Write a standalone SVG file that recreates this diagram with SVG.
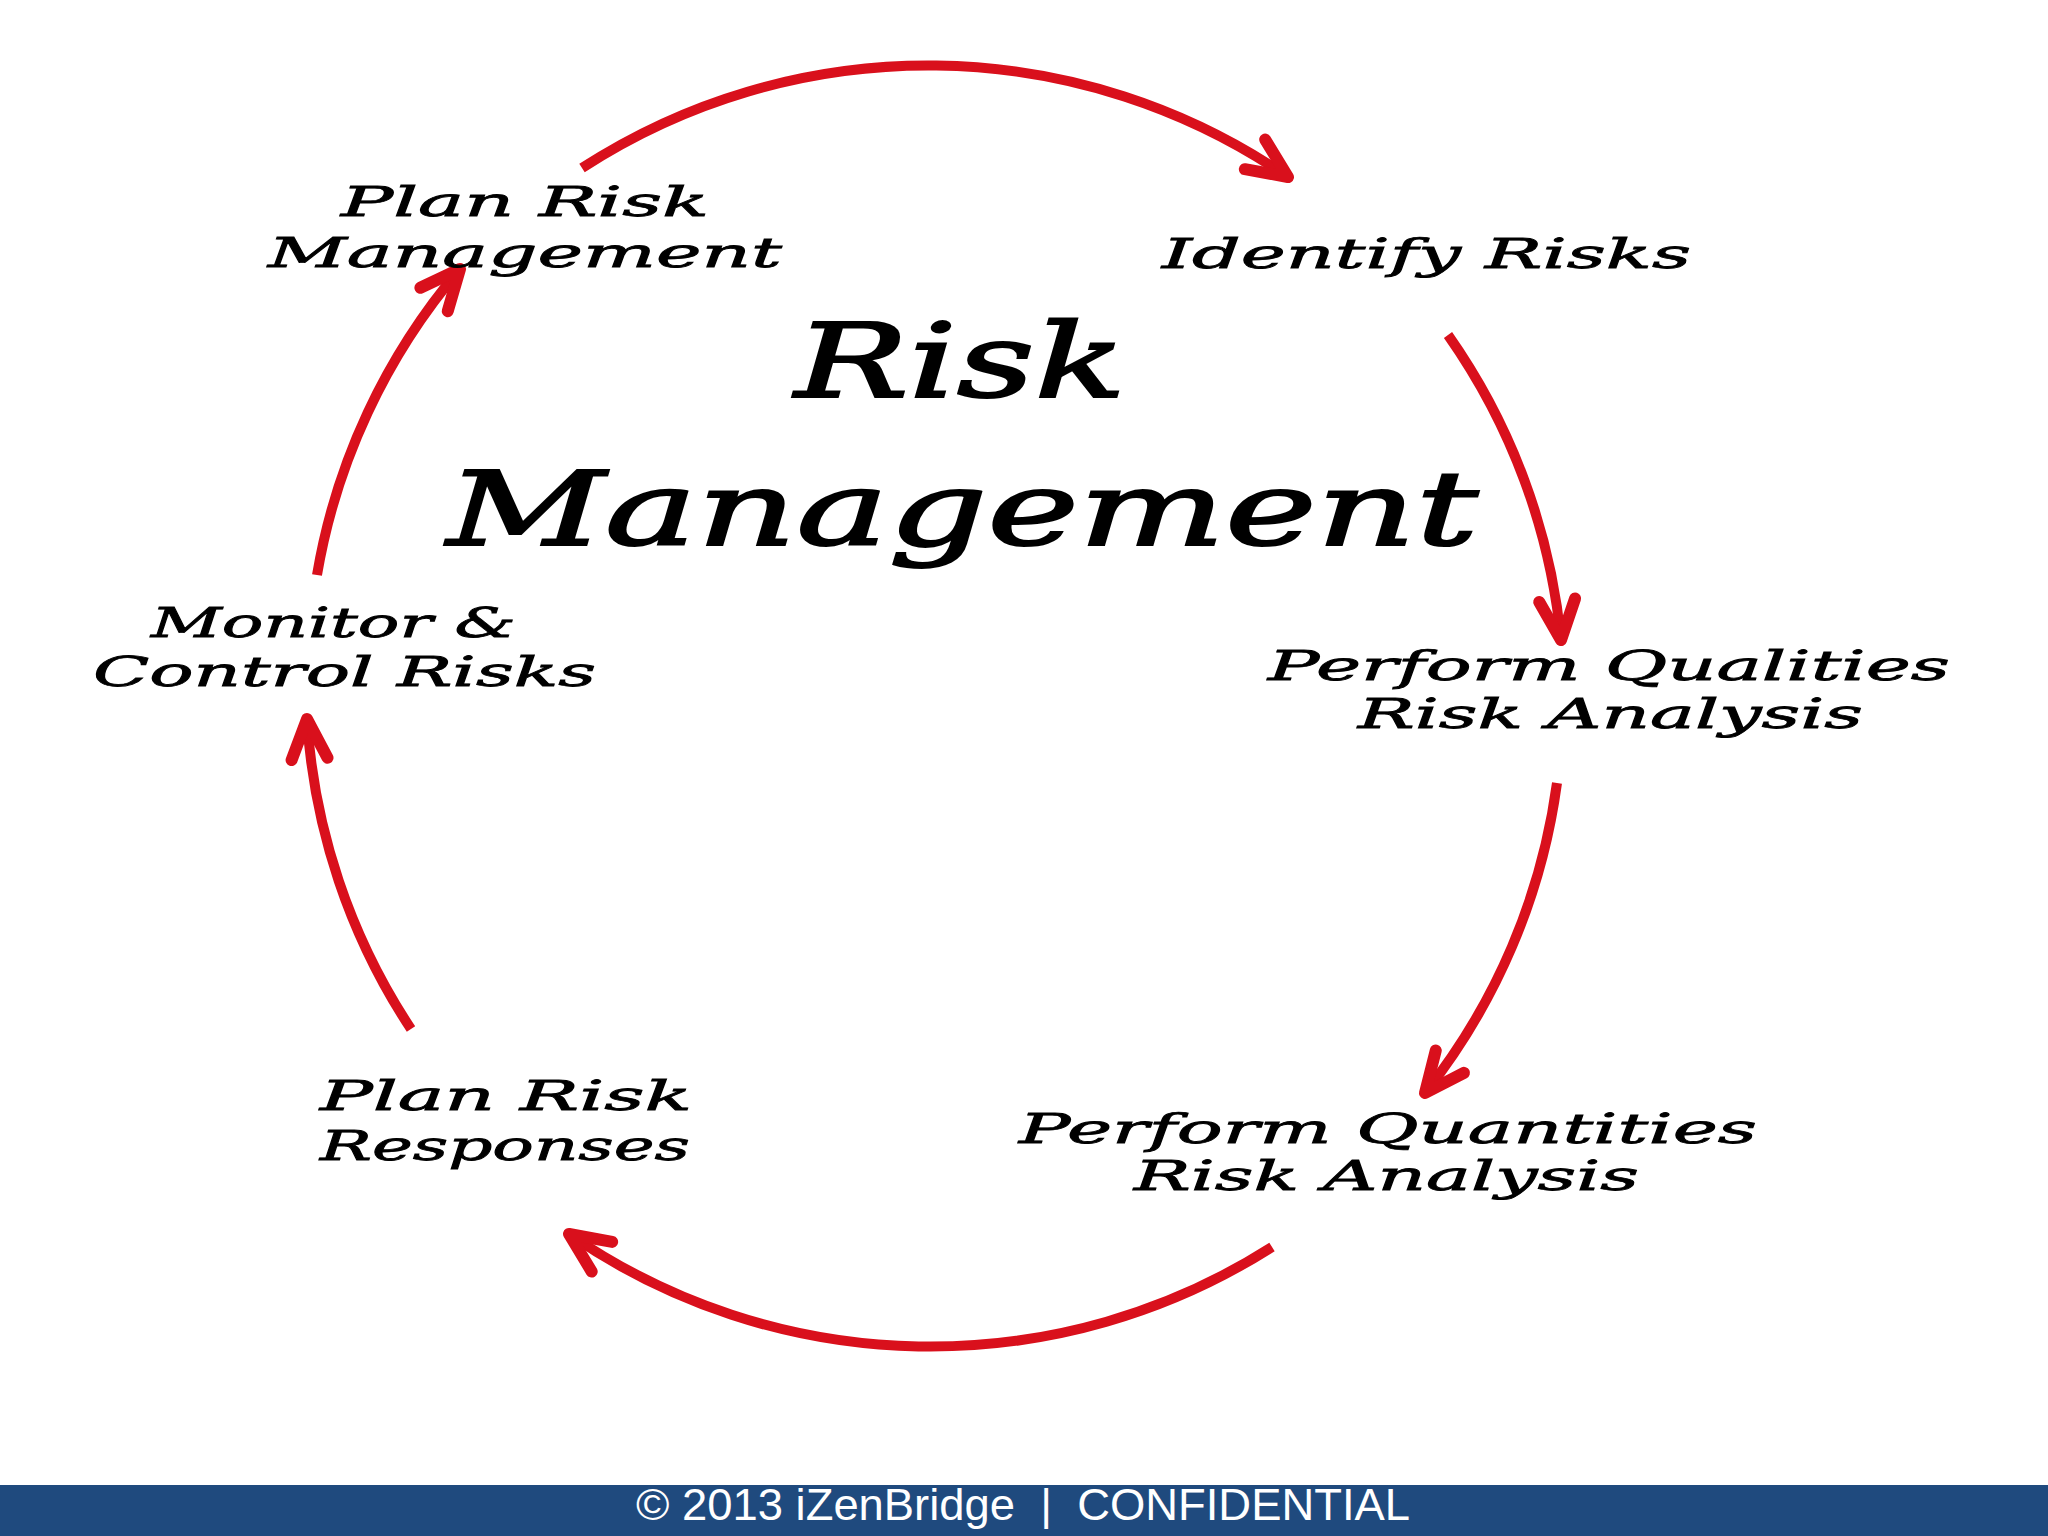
<svg xmlns="http://www.w3.org/2000/svg" width="2048" height="1536" viewBox="0 0 2048 1536">
<style>
.lbl{font-family:"DejaVu Serif","Liberation Serif",serif;font-style:italic;font-size:41px;fill:#000;stroke:#000;stroke-width:0.8px;}
.title{font-family:"DejaVu Serif","Liberation Serif",serif;font-style:italic;font-size:102px;fill:#000;stroke:#000;stroke-width:2.2px;}
.arc{fill:none;stroke:#d9101c;stroke-width:10;stroke-linecap:butt;marker-end:url(#head);}
.foot{font-family:"Liberation Sans",Arial,sans-serif;font-size:44px;fill:#fff;}
</style>
<defs>
<marker id="head" markerUnits="userSpaceOnUse" markerWidth="100" markerHeight="100" refX="0" refY="0" orient="auto" overflow="visible" viewBox="-60 -50 100 100">
<path d="M -40 -18 L 0 0 L -40 18" fill="none" stroke="#d9101c" stroke-width="12" stroke-linecap="round" stroke-linejoin="round"/>
</marker>
</defs>
<rect x="0" y="0" width="2048" height="1536" fill="#ffffff"/>
<g id="connectors">
<path class="arc" d="M 582 168 A 636 636 0 0 1 1288 177"/>
<path class="arc" d="M 1448 335 A 636 636 0 0 1 1561 640"/>
<path class="arc" d="M 1557 783 A 636 636 0 0 1 1425 1093"/>
<path class="arc" d="M 1272 1247 A 636 636 0 0 1 569 1234"/>
<path class="arc" d="M 411 1029 A 636 636 0 0 1 307 719"/>
<path class="arc" d="M 317 575 A 636 636 0 0 1 460 269"/>
</g>
<g id="title">
<text class="title" x="795" y="397" textLength="331" lengthAdjust="spacingAndGlyphs">Risk</text>
<text class="title" x="447" y="545" textLength="1031" lengthAdjust="spacingAndGlyphs">Management</text>
</g>
<g id="plan-risk-management">
<text class="lbl" x="341" y="216" textLength="368" lengthAdjust="spacingAndGlyphs">Plan Risk</text>
<text class="lbl" x="268" y="267" textLength="514" lengthAdjust="spacingAndGlyphs">Management</text>
</g>
<g id="identify-risks">
<text class="lbl" x="1162" y="268" textLength="529" lengthAdjust="spacingAndGlyphs">Identify Risks</text>
</g>
<g id="perform-qualities">
<text class="lbl" x="1268" y="680" textLength="682" lengthAdjust="spacingAndGlyphs">Perform Qualities</text>
<text class="lbl" x="1358" y="728" textLength="505" lengthAdjust="spacingAndGlyphs">Risk Analysis</text>
</g>
<g id="perform-quantities">
<text class="lbl" x="1019" y="1143" textLength="738" lengthAdjust="spacingAndGlyphs">Perform Quantities</text>
<text class="lbl" x="1134" y="1190" textLength="505" lengthAdjust="spacingAndGlyphs">Risk Analysis</text>
</g>
<g id="plan-risk-responses">
<text class="lbl" x="320" y="1110" textLength="372" lengthAdjust="spacingAndGlyphs">Plan Risk</text>
<text class="lbl" x="320" y="1160" textLength="370" lengthAdjust="spacingAndGlyphs">Responses</text>
</g>
<g id="monitor-control">
<text class="lbl" x="151" y="637" textLength="365" lengthAdjust="spacingAndGlyphs">Monitor &amp;</text>
<text class="lbl" x="93" y="686" textLength="503" lengthAdjust="spacingAndGlyphs">Control Risks</text>
</g>
<g id="footer">
<rect x="0" y="1485" width="2048" height="51" fill="#1f4a7e"/>
<text class="foot" x="636" y="1520" textLength="774" lengthAdjust="spacingAndGlyphs" xml:space="preserve">© 2013 iZenBridge  |  CONFIDENTIAL</text>
</g>
</svg>
